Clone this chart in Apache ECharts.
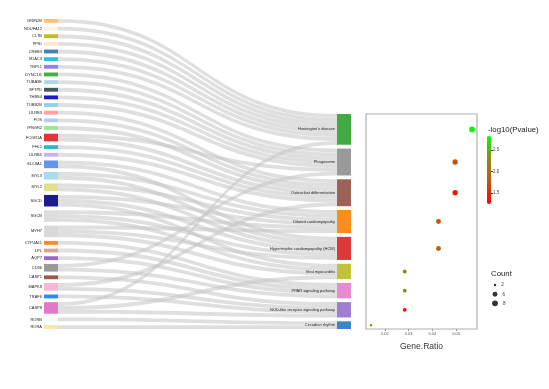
<!DOCTYPE html>
<html><head><meta charset="utf-8">
<script src="https://cdn.jsdelivr.net/npm/echarts@6/dist/echarts.min.js"></script>
<style>html,body{margin:0;padding:0;background:#fff}#c{width:549px;height:389px}</style>
</head><body><div id="c"></div>
<script>
// ---------------- data ----------------
const genes = ['GRIN2B','NDUFA12','CLTB','PPID','CREB3','VDAC3','TBPL1','DYNC1I1','TUBA3E','SFTPD','THBS4','TUBB2B','LILRB3','FOS','IFNGR2','FCGR1A','FHL2','LILRB5','SLC8A1','MYL3','MYL2','SGCD','SGCB','MYH7','CYP4A11','LPL','AQP7','CD36','CASP1','MAPK8','TRAF6','CASP8','RORB','RORA'];
const geneColors = ['#fcbf7b','#fbf2e4','#bcbd22','#fce8d2','#4682b4','#20c8d8','#9080f0','#40b040','#add8e6','#3d5c5a','#1a1acc','#90d0ee','#ff9f9f','#b4ccf2','#98e890','#e33535','#22bfd2','#c9b2e2','#6495ed','#a6dde8','#e2df8f','#1c1c8e','#dddddd','#d8d8d8','#ff8a1f','#d2a89c','#9a66cc','#9a9a9a','#a0554e','#f7b6d2','#2a8cf0','#e07ac8','#effefa','#ffe4a8'];
const pathways = ["Huntington's disease",'Phagosome','Osteoclast differentiation','Dilated cardiomyopathy','Hypertrophic cardiomyopathy (HCM)','Viral myocarditis','PPAR signaling pathway','NOD-like receptor signaling pathway','Circadian rhythm'];
const pathwayColors = ['#41ab41','#9a9a9a','#9c6258','#ff8c1f','#dc3a3a','#c2c23a','#e88ad0','#9f7fcf','#3a86c8'];
const pathwayGenes = [
  ['GRIN2B','NDUFA12','CLTB','PPID','CREB3','VDAC3','TBPL1','CASP8'],
  ['DYNC1I1','TUBA3E','SFTPD','THBS4','TUBB2B','FCGR1A','CD36'],
  ['LILRB3','FOS','IFNGR2','FCGR1A','FHL2','LILRB5','MAPK8'],
  ['SLC8A1','MYL3','MYL2','SGCD','SGCB','MYH7'],
  ['SLC8A1','MYL3','MYL2','SGCD','SGCB','MYH7'],
  ['SGCD','SGCB','MYH7','CASP8'],
  ['CYP4A11','LPL','AQP7','CD36'],
  ['CASP1','MAPK8','TRAF6','CASP8'],
  ['RORB','RORA']
];
const geneRatio = [0.0567,0.0496,0.0496,0.0426,0.0426,0.0284,0.0284,0.0284,0.0142];
const log10P = [2.80,1.75,1.40,1.75,1.90,2.30,2.30,1.30,2.30];
const ratioTicks = [0.02,0.03,0.04,0.05];
const pTicks = [1.5,2.0,2.5];
const countTicks = [2,6,8];

// ---------------- layout ----------------
const FONT = 'Liberation Sans, Arial, sans-serif';
const sTop = 19, sBottom = 60, nodeGap = 3.8;
const layH = 389 - sTop - sBottom;
const counts = pathwayGenes.map(g => g.length);
const total = counts.reduce((a, b) => a + b, 0);
const ky = (layH - (genes.length - 1) * nodeGap) / total;
const spacerValue = (layH - pathways.length * nodeGap) / ky - total - 1e-3;
const colHeight = total * ky + (pathways.length - 1) * nodeGap;
const colTop = sTop + layH - colHeight;
const gapUnits = nodeGap / ky;
let acc = 0;
const yPos = counts.map((c, i) => { const y = acc + c / 2 + i * gapUnits; acc += c; return y; });
const yMax = total + (pathways.length - 1) * gapUnits;
const sizeOf = c => Math.sqrt(4.6 * c - 3.4);

const nodes = genes.map((g, i) => ({ name: g, itemStyle: { color: geneColors[i] } }));
nodes.push({ name: '__spacer', value: spacerValue, depth: 1, itemStyle: { color: 'rgba(0,0,0,0)' }, label: { show: false } });
pathways.forEach((p, i) => nodes.push({ name: p, itemStyle: { color: pathwayColors[i] } }));
const links = [];
pathwayGenes.forEach((gs, i) => gs.forEach(g => links.push({ source: g, target: pathways[i], value: 1 })));

const scatterData = pathways.map((p, i) => [geneRatio[i], yPos[i], log10P[i], counts[i], p]);

const chart = echarts.init(document.getElementById('c'), null, { renderer: 'canvas' });
const series = [
  {
    type: 'scatter', xAxisIndex: 0, yAxisIndex: 0, data: scatterData,
    symbolSize: d => sizeOf(d[3]), itemStyle: { opacity: 1 }, silent: true
  },
  {
    type: 'sankey', left: 44, right: 198, top: sTop, bottom: sBottom,
    nodeWidth: 14, nodeGap: nodeGap, layoutIterations: 0, draggable: false,
    data: nodes, links: links, silent: true,
    itemStyle: { borderWidth: 0 },
    label: { position: 'left', distance: 2, fontSize: 4, color: '#222', fontFamily: FONT },
    lineStyle: { color: '#c4c4c4', opacity: 0.55, curveness: 0.5 }
  }
];
countTicks.forEach(c => series.push({ type: 'scatter', name: String(c), xAxisIndex: 0, yAxisIndex: 0, data: [], itemStyle: { color: '#000' } }));

const legendCenters = [285, 294.3, 303.3];
chart.setOption({
  animation: false,
  backgroundColor: '#fff',
  title: [
    { text: '-log10(Pvalue)', left: 488, top: 125.5, padding: 0, textStyle: { fontSize: 7.8, fontWeight: 'normal', color: '#222', fontFamily: FONT } },
    { text: 'Count', left: 491, top: 269.5, padding: 0, textStyle: { fontSize: 7.8, fontWeight: 'normal', color: '#222', fontFamily: FONT } }
  ],
  grid: [
    { left: 366, right: 72, top: colTop, bottom: sBottom, show: true, borderColor: '#b0b0b0', borderWidth: 1.2, containLabel: false },
    { left: 487, top: 136, width: 4, height: 68, show: false }
  ],
  xAxis: [
    {
      type: 'value', gridIndex: 0, min: 0.0121, max: 0.0588, position: 'bottom',
      name: 'Gene.Ratio', nameLocation: 'middle', nameGap: 13,
      nameTextStyle: { fontSize: 8.5, color: '#333', fontFamily: FONT },
      axisLine: { show: false, onZero: false }, splitLine: { show: false },
      axisTick: { show: true, length: 2, lineStyle: { color: '#999' }, customValues: ratioTicks },
      axisLabel: { fontSize: 4, color: '#555', margin: 3, fontFamily: FONT, customValues: ratioTicks, formatter: v => v.toFixed(2) }
    },
    { type: 'value', gridIndex: 1, show: false, min: 0, max: 1 }
  ],
  yAxis: [
    { type: 'value', gridIndex: 0, min: 0, max: yMax, inverse: true, show: false },
    {
      type: 'value', gridIndex: 1, min: 1.24, max: 2.83, position: 'right',
      axisLine: { show: false, onZero: false }, splitLine: { show: false },
      axisTick: { show: true, length: 2, lineStyle: { color: '#444' }, customValues: pTicks },
      axisLabel: { fontSize: 4.5, color: '#444', margin: 2, fontFamily: FONT, customValues: pTicks, formatter: v => v.toFixed(1) }
    }
  ],
  visualMap: [{
    type: 'continuous', min: 1.24, max: 2.83, dimension: 2, seriesIndex: 0,
    left: 487, top: 136, itemWidth: 4, itemHeight: 68, padding: 0,
    calculable: false, hoverLink: false, text: null, showLabel: false,
    inRange: { color: ['#ff0000', '#c4560a', '#8f8a12', '#00ff00'] }
  }],
  legend: countTicks.map((c, i) => {
    const s = sizeOf(c);
    return {
      data: [{ name: String(c), icon: 'circle' }], selectedMode: false,
      left: 495 - s / 2, top: legendCenters[i] - Math.max(s, 5) / 2,
      itemWidth: s, itemHeight: s, padding: 0,
      textStyle: { fontSize: 4.5, color: '#333', fontFamily: FONT }
    };
  }),
  series: series
});
</script></body></html>
